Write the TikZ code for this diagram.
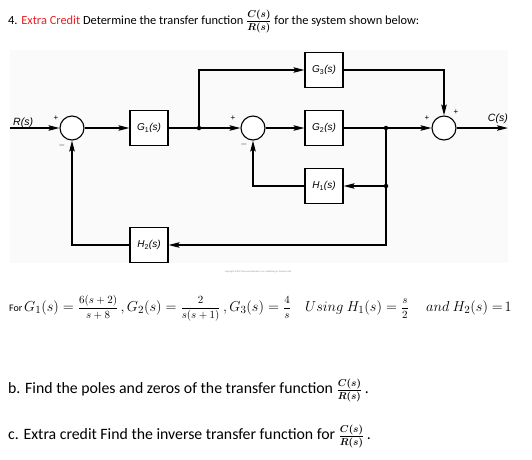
\documentclass[tikz,border=0pt]{standalone}
\usepackage{amsmath}
\usepackage[no-math]{fontspec}
\usetikzlibrary{arrows.meta}
\setmainfont{Carlito}
\newfontfamily\diafont{Liberation Sans}
\definecolor{xcred}{RGB}{235,30,35}
\newcommand{\tfn}[2]{{\diafont\itshape #1\textsubscript{\upshape #2}(s)}}
\newcommand{\sfr}[2]{\mbox{\fontsize{10}{11}\selectfont$\dfrac{#1}{#2}$}}
\newcommand{\gfr}[2]{\mbox{\fontsize{10.5}{12}\selectfont$\dfrac{#1}{#2}$}}
\newcommand{\cofr}{\sfr{\boldsymbol{C(s)}}{\boldsymbol{R(s)}}}
\begin{document}
\begin{tikzpicture}[
  x=1pt, y=-1pt,
  blk/.style={draw, line width=1.1pt, minimum width=38pt, minimum height=35pt, inner sep=0pt, fill=white},
  sumnode/.style={circle, draw, line width=1.1pt, minimum size=24pt, inner sep=0pt, fill=white},
  lbl/.style={font=\diafont\itshape\fontsize{10.5}{12}\selectfont, inner sep=1pt},
  sgn/.style={font=\diafont\fontsize{8}{9}\selectfont, inner sep=0pt},
  dot/.style={circle, fill=black, inner sep=0pt, minimum size=4.5pt},
  arw/.style={-{Stealth[length=11pt, width=5.5pt, inset=2pt]}, line width=1.1pt},
  wire/.style={line width=1.1pt},
  txt/.style={anchor=base west, inner sep=0pt},
  mtxt/.style={anchor=base west, inner sep=0pt, font=\fontsize{15}{18}\selectfont}
  ]
\useasboundingbox (0,0) rectangle (532,459);

% question header
\node [txt, font=\fontsize{12.4}{14}\selectfont] (head) at (8,24)
  {4. {\color{xcred}Extra Credit} Determine the transfer function \cofr\ for the system shown below:};

% diagram
\fill [black!2] (10,50) rectangle (508,263);

\node [sumnode] (sum1) at (72,128) {};
\node [blk] (g1) at (149,128) {\tfn{G}{1}};
\node [sumnode] (sum2) at (253,128) {};
\node [blk] (g3) at (324,70) {\tfn{G}{3}};
\node [blk] (g2) at (324,128) {\tfn{G}{2}};
\node [blk] (h1) at (324,186) {\tfn{H}{1}};
\node [blk] (h2) at (149,245) {\tfn{H}{2}};
\node [sumnode] (sum3) at (444,128) {};

\coordinate (rin) at (10,128);
\coordinate (cout) at (508,128);
\node [dot] (b1) at (199,128) {};
\node [dot] (b2) at (386,128) {};
\node [dot] (b3) at (386,186) {};

\node [lbl, anchor=base west] (rlab) at (12,125) {R(s)};
\node [lbl, anchor=base east] (clab) at (509,121) {C(s)};

\node [sgn] (p1) at (56,118) {+};
\node [sgn] (m1) at (62,145) {$-$};
\node [sgn] (p2) at (233,118) {+};
\node [sgn] (m2) at (244,144) {$-$};
\node [sgn] (p3) at (427,118) {+};
\node [sgn] (p4) at (456,112) {+};

\draw [arw] (rin) -- (sum1);
\draw [arw] (sum1) -- (g1);
\draw [wire] (g1) -- (b1);
\draw [arw] (b1) -- (sum2);
\draw [arw] (b1) |- (g3);
\draw [arw] (sum2) -- (g2);
\draw [wire] (g2) -- (b2);
\draw [arw] (b2) -- (sum3);
\draw [arw] (g3) -| (sum3);
\draw [arw] (sum3) -- (cout);

% feedback paths
\draw [wire] (b2) -- (b3);
\draw [arw] (b3) -- (h1);
\draw [arw] (h1) -| (sum2);
\draw [arw] (b3) |- (h2);
\draw [arw] (h2) -| (sum1);

\node [font=\fontsize{2.4}{3}\selectfont, text=black!45, inner sep=0pt] (copy) at (258,272)
  {Copyright \textcopyright2011 Pearson Education, Inc. Publishing as Prentice Hall};

% given data
\node [txt, font=\fontsize{10}{12}\selectfont] (gfor) at (9,311) {For};
\node [mtxt] (gvals) at (24,311)
  {$G_1(s)=\gfr{6(s+2)}{s+8}\,, G_2(s)=\gfr{2}{s(s+1)}\,, G_3(s)=\gfr{4}{s}$};
\node [mtxt] (guse) at (305,311) {$Using\ H_1(s)=\gfr{s}{2}$};
\node [mtxt] (gand) at (426,311) {$and\ H_2(s)=\!1$};

% questions
\node [txt, font=\fontsize{15.8}{18}\selectfont] (qb) at (8,393)
  {b. Find the poles and zeros of the transfer function \cofr\,.};
\node [txt, font=\fontsize{15.8}{18}\selectfont] (qc) at (8,439)
  {c. Extra credit Find the inverse transfer function for \cofr\,.};

\end{tikzpicture}
\end{document}
